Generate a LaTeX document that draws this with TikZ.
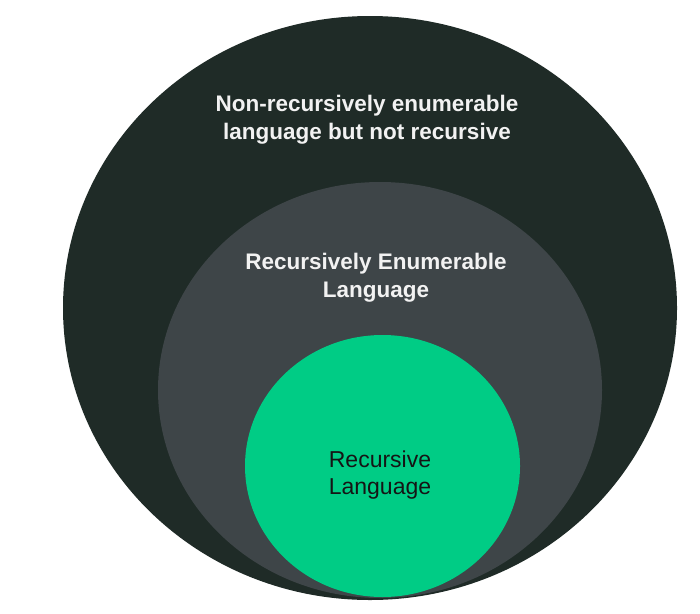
\documentclass[tikz,border=0pt]{standalone}
\usepackage{fontspec}
\setmainfont{Liberation Sans}
\definecolor{outerc}{HTML}{1F2B27}
\definecolor{midc}{HTML}{3E4548}
\definecolor{greenc}{HTML}{00CC85}
\definecolor{lightt}{HTML}{F2F2F2}
\definecolor{darkt}{HTML}{151515}
\begin{document}
\begin{tikzpicture}[x=1pt,y=-1pt,
  lbl/.style={align=center,font=\fontsize{22.5}{28}\selectfont\bfseries,text=lightt,inner sep=0pt},
  lbldark/.style={align=center,font=\fontsize{23}{27}\selectfont,text=darkt,inner sep=0pt}]
\useasboundingbox (0,0) rectangle (700,613);
\fill[white] (0,0) rectangle (700,613);
\fill[outerc] (370,308) ellipse [x radius=307, y radius=292];
\fill[midc] (380,390) ellipse [x radius=222, y radius=208];
\fill[greenc] (382.5,466) ellipse [x radius=137.5, y radius=131];
\node[lbl] (outerlbl) at (367,120) {Non-recursively enumerable\\language but not recursive};
\node[lbl] (midlbl) at (376,278) {Recursively Enumerable\\Language};
\node[lbldark] (innerlbl) at (380,475) {Recursive\\Language};
\end{tikzpicture}
\end{document}
